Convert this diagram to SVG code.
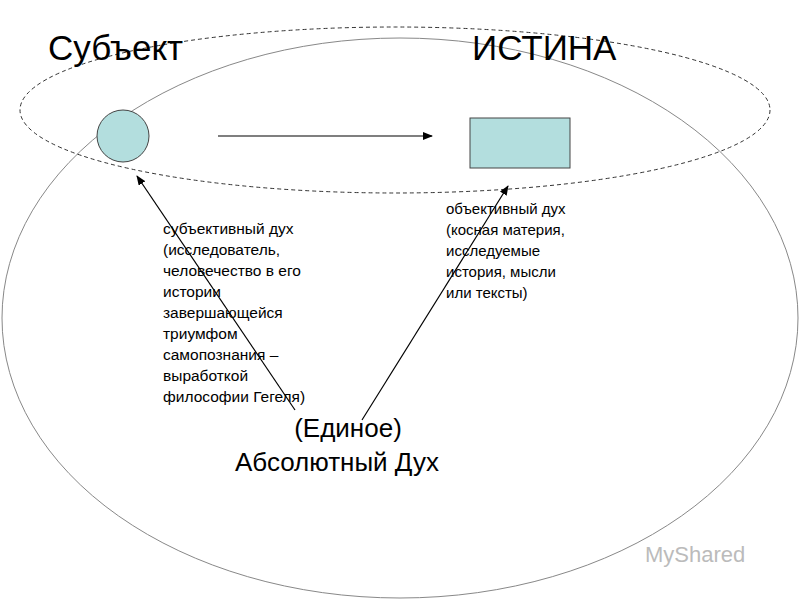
<svg xmlns="http://www.w3.org/2000/svg" width="800" height="600" viewBox="0 0 800 600">
<defs>
<marker id="ah" markerWidth="10" markerHeight="8" refX="9" refY="4" orient="auto" markerUnits="userSpaceOnUse"><path d="M0,0 L10,4 L0,8 z" fill="#000"/></marker>
<style>
text{font-family:"Liberation Sans",Arial,sans-serif;fill:#000}
.s{font-size:15px}
.l{font-size:15.5px}
.b{font-size:35px}
.m{font-size:26px}
.c{stroke:#000;stroke-width:1.2;fill:none;marker-end:url(#ah)}
</style>
</defs>
<rect width="800" height="600" fill="#fff"/>
<g id="outer"><ellipse cx="400" cy="318" rx="398" ry="280" fill="none" stroke="#888" stroke-width="1"/></g>
<g id="dashed"><ellipse cx="395" cy="110" rx="375" ry="83" fill="none" stroke="#333" stroke-width="1" stroke-dasharray="4,3"/></g>
<g id="subject"><circle cx="123" cy="136" r="26" fill="#b3dede" stroke="#444"/><text class="b" x="48" y="60">Субъект</text></g>
<g id="truth"><rect x="470" y="118" width="100" height="50" fill="#b3dede" stroke="#444"/><text class="b" x="472" y="60">ИСТИНА</text></g>
<g id="connectors">
<line class="c" x1="218" y1="136" x2="432" y2="136"/>
<line class="c" x1="295" y1="410" x2="137" y2="176"/>
<line class="c" x1="362" y1="420" x2="508" y2="186"/>
</g>
<g id="subjText"><text class="l"><tspan x="163" y="234">субъективный дух</tspan><tspan x="163" y="255">(исследователь,</tspan><tspan x="163" y="276">человечество в его</tspan><tspan x="163" y="297">истории</tspan><tspan x="163" y="318">завершающейся</tspan><tspan x="163" y="339">триумфом</tspan><tspan x="163" y="360">самопознания –</tspan><tspan x="163" y="381">выработкой</tspan><tspan x="163" y="402">философии Гегеля)</tspan></text></g>
<g id="objText"><text class="s"><tspan x="446" y="214">объективный дух</tspan><tspan x="446" y="235">(косная материя,</tspan><tspan x="446" y="256">исследуемые</tspan><tspan x="446" y="277">история, мысли</tspan><tspan x="446" y="298">или тексты)</tspan></text></g>
<g id="absolute"><text class="m" text-anchor="middle"><tspan x="348" y="437">(Единое)</tspan><tspan x="337" y="471">Абсолютный Дух</tspan></text></g>
<g id="wm"><text x="645" y="562" font-size="22" style="fill:#bbb">MyShared</text></g>
</svg>
